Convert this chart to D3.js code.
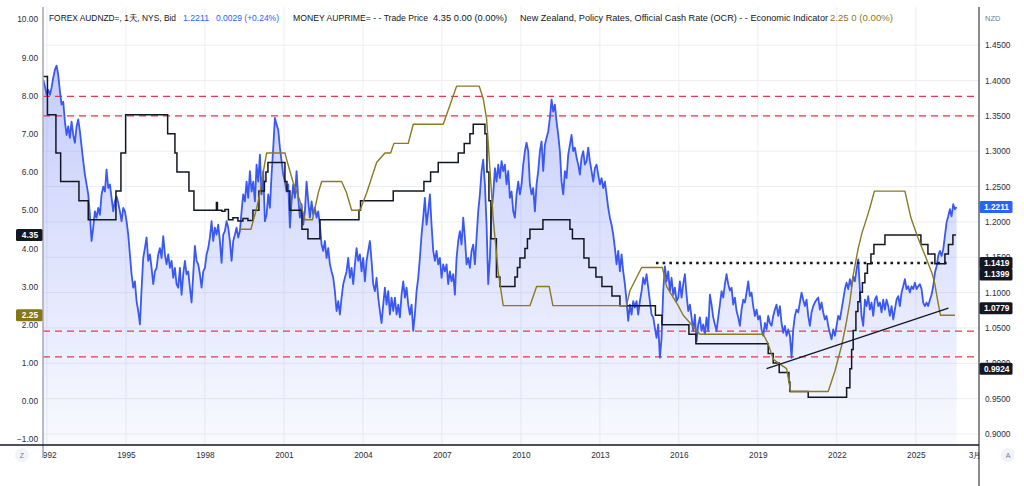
<!DOCTYPE html>
<html>
<head>
<meta charset="utf-8">
<script src="https://cdn.jsdelivr.net/npm/d3@7"></script>
<style>
  body { margin: 0; background: #ffffff; }
  svg { display: block; }
</style>
</head>
<body>
<svg id="chart"></svg>
<script>
// constants
const width = 1024;
const height = 486;
const plot = { left: 43, right: 979, top: 7, bottom: 445 };
const font = '"Liberation Sans", Arial, sans-serif';

// ---------------- data ----------------
const yearTicks = [1992, 1995, 1998, 2001, 2004, 2007, 2010, 2013, 2016, 2019, 2022, 2025];
const leftTicks = [-1, 0, 1, 2, 3, 4, 5, 6, 7, 8, 9, 10];
const rightTicks = [0.90, 0.95, 1.00, 1.05, 1.10, 1.15, 1.20, 1.25, 1.30, 1.35, 1.40, 1.45];

// AUDNZD bid, one sample every ~23 days from Nov 1991
const audnzdStart = 1991.859;
const audnzdStep = 0.0633;
const audnzd = [
  1.401,1.392,1.380,1.387,1.380,1.390,1.404,1.415,1.421,1.408,1.385,1.366,1.370,1.342,1.323,1.335,1.319,1.342,1.323,1.312,
  1.335,1.345,1.328,1.307,1.286,1.267,1.253,1.239,1.210,1.173,1.192,1.215,1.206,1.220,1.210,1.239,1.250,1.243,1.274,1.248,
  1.253,1.234,1.215,1.229,1.236,1.227,1.215,1.201,1.220,1.215,1.201,1.182,1.154,1.126,1.107,1.116,1.088,1.074,1.055,1.105,
  1.149,1.163,1.178,1.145,1.154,1.135,1.112,1.130,1.135,1.154,1.163,1.149,1.180,1.154,1.140,1.154,1.135,1.145,1.121,1.135,
  1.112,1.107,1.135,1.097,1.126,1.145,1.126,1.130,1.107,1.086,1.126,1.166,1.145,1.140,1.126,1.107,1.130,1.135,1.154,1.163,
  1.178,1.201,1.173,1.192,1.182,1.196,1.173,1.142,1.182,1.187,1.201,1.192,1.173,1.145,1.173,1.182,1.192,1.178,1.187,1.215,
  1.239,1.229,1.257,1.234,1.272,1.243,1.257,1.229,1.281,1.257,1.295,1.239,1.272,1.201,1.210,1.239,1.220,1.267,1.305,1.347,
  1.338,1.330,1.305,1.286,1.267,1.257,1.243,1.253,1.192,1.229,1.253,1.234,1.272,1.234,1.206,1.225,1.196,1.215,1.257,1.229,
  1.206,1.229,1.210,1.220,1.206,1.215,1.196,1.168,1.159,1.173,1.149,1.163,1.140,1.130,1.121,1.102,1.074,1.088,1.069,1.093,
  1.112,1.121,1.130,1.149,1.121,1.135,1.112,1.140,1.163,1.145,1.154,1.130,1.149,1.116,1.145,1.159,1.173,1.145,1.112,1.102,
  1.121,1.093,1.074,1.057,1.083,1.107,1.083,1.102,1.069,1.093,1.074,1.093,1.069,1.083,1.065,1.097,1.116,1.093,1.107,1.083,
  1.069,1.083,1.046,1.069,1.102,1.121,1.149,1.182,1.206,1.234,1.196,1.215,1.239,1.196,1.159,1.145,1.159,1.140,1.149,1.121,
  1.140,1.130,1.140,1.112,1.130,1.116,1.126,1.097,1.149,1.173,1.187,1.168,1.206,1.178,1.140,1.149,1.135,1.159,1.168,1.140,
  1.178,1.215,1.239,1.272,1.288,1.253,1.196,1.112,1.149,1.215,1.239,1.276,1.257,1.281,1.262,1.286,1.272,1.281,1.253,1.272,
  1.234,1.243,1.215,1.206,1.239,1.257,1.239,1.253,1.281,1.300,1.312,1.300,1.253,1.239,1.248,1.215,1.253,1.272,1.300,1.314,
  1.272,1.309,1.319,1.328,1.347,1.373,1.356,1.366,1.342,1.323,1.300,1.257,1.239,1.272,1.262,1.295,1.309,1.323,1.300,1.305,
  1.291,1.281,1.267,1.291,1.300,1.281,1.286,1.305,1.286,1.272,1.257,1.276,1.281,1.267,1.253,1.262,1.248,1.257,1.239,1.220,
  1.206,1.196,1.182,1.163,1.140,1.159,1.130,1.154,1.130,1.112,1.088,1.060,1.083,1.069,1.088,1.079,1.088,1.069,1.088,1.102,
  1.121,1.112,1.126,1.107,1.088,1.069,1.065,1.050,1.036,1.055,1.008,1.036,1.102,1.137,1.116,1.130,1.102,1.121,1.097,1.107,
  1.088,1.093,1.116,1.093,1.112,1.126,1.097,1.074,1.083,1.065,1.046,1.069,1.031,1.055,1.065,1.046,1.055,1.041,1.065,1.046,
  1.097,1.083,1.065,1.055,1.046,1.065,1.083,1.102,1.093,1.112,1.126,1.112,1.103,1.107,1.083,1.093,1.074,1.065,1.053,1.076,
  1.090,1.086,1.100,1.116,1.095,1.100,1.081,1.067,1.076,1.062,1.067,1.048,1.039,1.057,1.048,1.067,1.057,1.053,1.067,1.076,
  1.083,1.067,1.081,1.057,1.043,1.053,1.039,1.048,1.039,1.008,1.048,1.067,1.076,1.072,1.086,1.100,1.090,1.081,1.090,1.067,
  1.053,1.072,1.081,1.086,1.090,1.093,1.076,1.086,1.072,1.062,1.067,1.053,1.043,1.034,1.048,1.039,1.053,1.067,1.062,1.076,
  1.090,1.105,1.114,1.105,1.119,1.109,1.123,1.116,1.133,1.147,1.105,1.067,1.053,1.090,1.081,1.095,1.076,1.086,1.067,1.090,
  1.095,1.081,1.086,1.072,1.090,1.076,1.090,1.081,1.067,1.081,1.062,1.076,1.090,1.095,1.081,1.100,1.109,1.119,1.105,1.109,
  1.100,1.109,1.105,1.114,1.105,1.109,1.112,1.105,1.086,1.081,1.086,1.081,1.090,1.097,1.109,1.128,1.137,1.152,1.159,1.152,
  1.161,1.180,1.199,1.208,1.218,1.208,1.225,1.218,1.2211
];

// MONEY AUPRIME trade price, [year, %], stepped
const auPrime = [
  [1991.859, 8.5], [1992.019, 7.5], [1992.341, 6.5], [1992.520, 5.75], [1993.215, 5.25], [1993.568, 4.75],
  [1994.620, 5.5], [1994.810, 6.5], [1994.989, 7.5], [1996.584, 7.0], [1996.861, 6.5], [1996.937, 6.0],
  [1997.393, 5.5], [1997.583, 5.0], [1998.437, 5.2], [1998.475, 5.0], [1998.646, 4.97], [1998.760, 5.02],
  [1998.893, 4.75], [1999.064, 4.8], [1999.254, 4.72], [1999.444, 4.78], [1999.633, 4.73], [1999.823, 5.0],
  [2000.051, 5.5], [2000.260, 5.75], [2000.317, 6.0], [2000.393, 6.25], [2001.039, 5.75], [2001.115, 5.5],
  [2001.229, 5.0], [2001.684, 4.5], [2001.912, 4.25], [2002.368, 4.75], [2003.850, 5.0], [2003.910, 5.25],
  [2005.152, 5.5], [2006.318, 5.75], [2006.572, 6.0], [2006.861, 6.25], [2007.621, 6.5], [2007.848, 6.75],
  [2008.065, 7.0], [2008.190, 7.25], [2008.635, 7.0], [2008.711, 6.0], [2008.787, 5.25], [2008.862, 4.25],
  [2009.071, 3.25], [2009.204, 3.0], [2009.774, 3.25], [2009.869, 3.5], [2009.964, 3.75], [2010.154, 4.0],
  [2010.249, 4.25], [2010.344, 4.5], [2010.837, 4.75], [2011.863, 4.5], [2011.958, 4.25], [2012.395, 3.75],
  [2012.585, 3.5], [2012.850, 3.25], [2013.078, 3.0], [2013.458, 2.75], [2013.762, 2.5], [2015.110, 2.25],
  [2015.357, 2.0], [2016.383, 1.75], [2016.648, 1.5], [2019.394, 1.25], [2019.584, 1.0], [2019.812, 0.75],
  [2020.180, 0.5], [2020.218, 0.25], [2020.913, 0.1], [2022.372, 0.35], [2022.497, 0.85], [2022.562, 1.35],
  [2022.622, 1.85], [2022.725, 2.35], [2022.801, 2.6], [2022.877, 2.85], [2022.972, 3.1], [2023.067, 3.35],
  [2023.162, 3.6], [2023.295, 3.85], [2023.409, 4.1], [2023.827, 4.35], [2025.194, 4.1], [2025.460, 3.85],
  [2025.725, 3.6], [2026.105, 3.85], [2026.238, 4.1], [2026.409, 4.35], [2026.523, 4.35]
];

// New Zealand official cash rate, [year, %]
const nzOcr = [
  [1999.330, 4.5], [1999.747, 4.5], [1999.964, 5.05], [2000.089, 5.45], [2000.215, 6.0], [2000.344, 6.5],
  [2001.039, 6.5], [2001.115, 6.3], [2001.354, 5.72], [2001.608, 5.25], [2001.798, 4.75], [2002.083, 4.75],
  [2002.303, 5.45], [2002.433, 5.75], [2003.192, 5.75], [2003.382, 5.45], [2003.572, 5.0], [2003.887, 5.0],
  [2004.142, 5.45], [2004.521, 6.25], [2004.837, 6.5], [2005.053, 6.5], [2005.179, 6.75], [2005.722, 6.75],
  [2005.912, 7.25], [2007.051, 7.25], [2007.305, 7.75], [2007.560, 8.25], [2008.418, 8.25], [2008.570, 7.92],
  [2008.699, 7.39], [2008.825, 6.08], [2008.950, 4.77], [2009.140, 3.37], [2009.330, 2.5], [2010.344, 2.5],
  [2010.598, 3.0], [2011.077, 3.0], [2011.217, 2.5], [2014.009, 2.5], [2014.141, 2.89], [2014.586, 3.5],
  [2015.376, 3.5], [2015.535, 3.0], [2015.976, 2.5], [2016.166, 2.25], [2016.485, 2.0], [2016.800, 1.75],
  [2019.204, 1.75], [2019.394, 1.5], [2019.584, 1.1], [2019.774, 1.0], [2020.093, 0.85], [2020.245, 0.25],
  [2021.673, 0.25], [2021.928, 0.79], [2022.182, 1.45], [2022.345, 2.0], [2022.497, 2.6], [2022.622, 3.3],
  [2022.812, 4.0], [2022.953, 4.4], [2023.131, 4.78], [2023.257, 5.07], [2023.428, 5.5], [2024.586, 5.5],
  [2024.814, 4.8], [2025.080, 4.28], [2025.384, 3.76], [2025.630, 3.32], [2025.725, 3.06], [2025.839, 2.6],
  [2025.935, 2.25], [2026.485, 2.25]
];

// drawings (AUDNZD scale)
const redLevels = [1.3775, 1.35, 1.0455, 1.009];
const dottedLevel = [[2015.13, 1.1419], [2026.22, 1.1419]];
const trendLine = [[2019.333, 0.9924], [2026.238, 1.0779]];

// price tags on the axes: [text, value, colour]
const rightTags = [["1.2211", 1.2211, "#2962ff"], ["1.1419", 1.1419, "#131722"], ["1.1399", 1.1399, "#131722"],
  ["1.0779", 1.0779, "#131722"], ["0.9924", 0.9924, "#131722"]];
const leftTags = [["4.35", 4.35, "#131722"], ["2.25", 2.25, "#86751a"]];

// ---------------- scales ----------------
const x = d3.scaleLinear().domain([1991.85, 2027.4]).range([plot.left, plot.right]);
const yL = d3.scaleLinear().domain([-1, 10]).range([439.3, 19.3]);
const yR = d3.scaleLinear().domain([0.9, 1.45]).range([434, 45.2]);

const svg = d3.select('svg#chart').attr('width', width).attr('height', height)
svg.append('rect').attr('width', width).attr('height', height).attr('fill', '#ffffff')

const defs = svg.append('defs')
const grad = defs.append('linearGradient').attr('id', 'areaFill')
  .attr('gradientUnits', 'userSpaceOnUse')
  .attr('x1', 0).attr('x2', 0).attr('y1', 60).attr('y2', plot.bottom)
grad.append('stop').attr('offset', 0).attr('stop-color', '#3a55f2').attr('stop-opacity', 0.3)
grad.append('stop').attr('offset', 1).attr('stop-color', '#3a55f2').attr('stop-opacity', 0.03)
defs.append('clipPath').attr('id', 'plotClip').append('rect')
  .attr('x', plot.left).attr('y', plot.top)
  .attr('width', plot.right - plot.left).attr('height', plot.bottom - plot.top)

// the right price tags hide the tick labels behind them
let lastY = -100
const tagBoxes = rightTags.map(t => {
  const cy = Math.max(yR(t[1]), lastY + 11.5)
  lastY = cy
  return { text: t[0], fill: t[2], top: cy - 6, bottom: cy + 6, cy: cy }
})
const freeBands = []
let bandTop = 0
tagBoxes.forEach(b => {
  if (b.top > bandTop) freeBands.push([bandTop, b.top])
  bandTop = Math.max(bandTop, b.bottom)
})
freeBands.push([bandTop, height])
defs.append('clipPath').attr('id', 'rightAxisClip').selectAll('rect').data(freeBands).enter().append('rect')
  .attr('x', plot.right).attr('width', width - plot.right).attr('y', d => d[0]).attr('height', d => d[1] - d[0])

// grid
const grid = svg.append('g')
grid.selectAll('line.v').data(yearTicks).enter().append('line').attr('class', 'v')
  .attr('x1', d => x(d)).attr('x2', d => x(d)).attr('y1', plot.top).attr('y2', plot.bottom)
  .attr('stroke', '#eceef4').attr('stroke-width', 1)
grid.selectAll('line.h').data(rightTicks).enter().append('line').attr('class', 'h')
  .attr('x1', plot.left).attr('x2', plot.right).attr('y1', d => yR(d)).attr('y2', d => yR(d))
  .attr('stroke', '#eceef4').attr('stroke-width', 1)

// series
const viz = svg.append('g').attr('clip-path', 'url(#plotClip)')
const blueData = audnzd.map((v, i) => [audnzdStart + i * audnzdStep, v])

viz.append('path').datum(blueData)
  .attr('d', d3.area().x(d => x(d[0])).y0(plot.bottom).y1(d => yR(d[1])))
  .attr('fill', 'url(#areaFill)')

viz.selectAll('line.red').data(redLevels).enter().append('line').attr('class', 'red')
  .attr('x1', plot.left).attr('x2', plot.right).attr('y1', d => yR(d)).attr('y2', d => yR(d))
  .attr('stroke', '#e8374b').attr('stroke-width', 1.3).attr('stroke-dasharray', '7,5')

viz.append('path').datum(blueData)
  .attr('d', d3.line().x(d => x(d[0])).y(d => yR(d[1])))
  .attr('fill', 'none').attr('stroke', '#3a58f4').attr('stroke-width', 1.8).attr('stroke-linejoin', 'round')

viz.append('path').datum(auPrime)
  .attr('d', d3.line().curve(d3.curveStepAfter).x(d => x(d[0])).y(d => yL(d[1])))
  .attr('fill', 'none').attr('stroke', '#131722').attr('stroke-width', 1.5)

viz.append('path').datum(nzOcr)
  .attr('d', d3.line().x(d => x(d[0])).y(d => yL(d[1])))
  .attr('fill', 'none').attr('stroke', '#8a7a22').attr('stroke-width', 1.4).attr('stroke-linejoin', 'round')

viz.append('path').datum(dottedLevel)
  .attr('d', d3.line().x(d => x(d[0])).y(d => yR(d[1])))
  .attr('fill', 'none').attr('stroke', '#131722').attr('stroke-width', 2.6).attr('stroke-dasharray', '2.6,4.1')

viz.append('path').datum(trendLine)
  .attr('d', d3.line().x(d => x(d[0])).y(d => yR(d[1])))
  .attr('fill', 'none').attr('stroke', '#131722').attr('stroke-width', 1.3)

// axes
const styleAxis = g => {
  g.select('.domain').remove()
  g.selectAll('text').attr('font-family', font).attr('font-size', 8.3).attr('fill', '#2a2e39')
}
svg.append('g').attr('transform', 'translate(' + plot.left + ',0)')
  .call(d3.axisLeft(yL).tickValues(leftTicks).tickFormat(d3.format('.2f')).tickSize(0).tickPadding(5))
  .call(styleAxis)
svg.append('g').attr('clip-path', 'url(#rightAxisClip)')
  .append('g').attr('transform', 'translate(' + plot.right + ',0)')
  .call(d3.axisRight(yR).tickValues(rightTicks).tickFormat(d3.format('.4f')).tickSize(0).tickPadding(6))
  .call(styleAxis)
svg.append('g').attr('transform', 'translate(0,' + plot.bottom + ')')
  .call(d3.axisBottom(x).tickValues(yearTicks).tickFormat(d3.format('d')).tickSize(0).tickPadding(7))
  .call(styleAxis)
svg.append('text').attr('x', plot.right - 4).attr('y', 458).attr('text-anchor', 'middle')
  .attr('font-family', font).attr('font-size', 8.3).attr('fill', '#2a2e39').text('3月')

// side panels cover the time labels
svg.append('rect').attr('x', 0).attr('y', plot.bottom + 1).attr('width', plot.left).attr('height', 40).attr('fill', '#fff')
svg.append('rect').attr('x', plot.right + 0.5).attr('y', plot.bottom + 1).attr('width', 50).attr('height', 40).attr('fill', '#fff')

// frame lines
svg.append('line').attr('x1', plot.left).attr('x2', plot.left).attr('y1', plot.top).attr('y2', 458)
  .attr('stroke', '#a3a6af').attr('stroke-width', 1.5)
svg.append('line').attr('x1', plot.right).attr('x2', plot.right).attr('y1', plot.top).attr('y2', height)
  .attr('stroke', '#131722').attr('stroke-width', 1)
svg.append('line').attr('x1', 0).attr('x2', plot.right).attr('y1', plot.bottom).attr('y2', plot.bottom)
  .attr('stroke', '#131722').attr('stroke-width', 1.5)

// corner buttons
const buttons = [['Z', 22], ['A', 1008]]
buttons.forEach(b => {
  svg.append('circle').attr('cx', b[1]).attr('cy', 455).attr('r', 7).attr('fill', '#f0f3fa')
  svg.append('text').attr('x', b[1]).attr('y', 457.5).attr('text-anchor', 'middle')
    .attr('font-family', font).attr('font-size', 7).attr('fill', '#787b86').text(b[0])
})

// axis price tags
tagBoxes.forEach(t => {
  svg.append('rect').attr('x', plot.right + 0.5).attr('y', t.top).attr('width', 33).attr('height', 12)
    .attr('rx', 1.5).attr('fill', t.fill)
  svg.append('text').attr('x', plot.right + 5).attr('y', t.cy + 3).attr('font-family', font)
    .attr('font-size', 8.3).attr('font-weight', 'bold').attr('fill', '#ffffff').text(t.text)
})
leftTags.forEach(t => {
  svg.append('rect').attr('x', 16).attr('y', yL(t[1]) - 6).attr('width', plot.left - 16.5).attr('height', 12)
    .attr('rx', 1.5).attr('fill', t[2])
  svg.append('text').attr('x', plot.left - 5).attr('y', yL(t[1]) + 3).attr('text-anchor', 'end')
    .attr('font-family', font).attr('font-size', 8.3).attr('font-weight', 'bold').attr('fill', '#ffffff').text(t[0])
})

// legend
const legend = [
  { x: 49, w: 127, fill: '#131722', text: 'FOREX AUDNZD=, 1天, NYS, Bid' },
  { x: 183, w: 26, fill: '#2962ff', text: '1.2211' },
  { x: 216, w: 63, fill: '#2962ff', text: '0.0029 (+0.24%)' },
  { x: 293, w: 135, fill: '#131722', text: 'MONEY AUPRIME= -  - Trade Price' },
  { x: 433, w: 74, fill: '#131722', text: '4.35  0.00 (0.00%)' },
  { x: 520, w: 308, fill: '#131722', text: 'New Zealand, Policy Rates, Official Cash Rate (OCR) -  - Economic Indicator' },
  { x: 830, w: 63, fill: '#8a7a16', text: '2.25  0 (0.00%)' }
]
svg.selectAll('text.legend').data(legend).enter().append('text').attr('class', 'legend')
  .attr('x', d => d.x).attr('y', 21).attr('font-family', font).attr('font-size', 8.8)
  .attr('fill', d => d.fill).attr('textLength', d => d.w).attr('lengthAdjust', 'spacingAndGlyphs')
  .text(d => d.text)
svg.append('text').attr('x', 985).attr('y', 21).attr('font-family', font).attr('font-size', 7.5)
  .attr('fill', '#787b86').text('NZD')
</script>
</body>
</html>
